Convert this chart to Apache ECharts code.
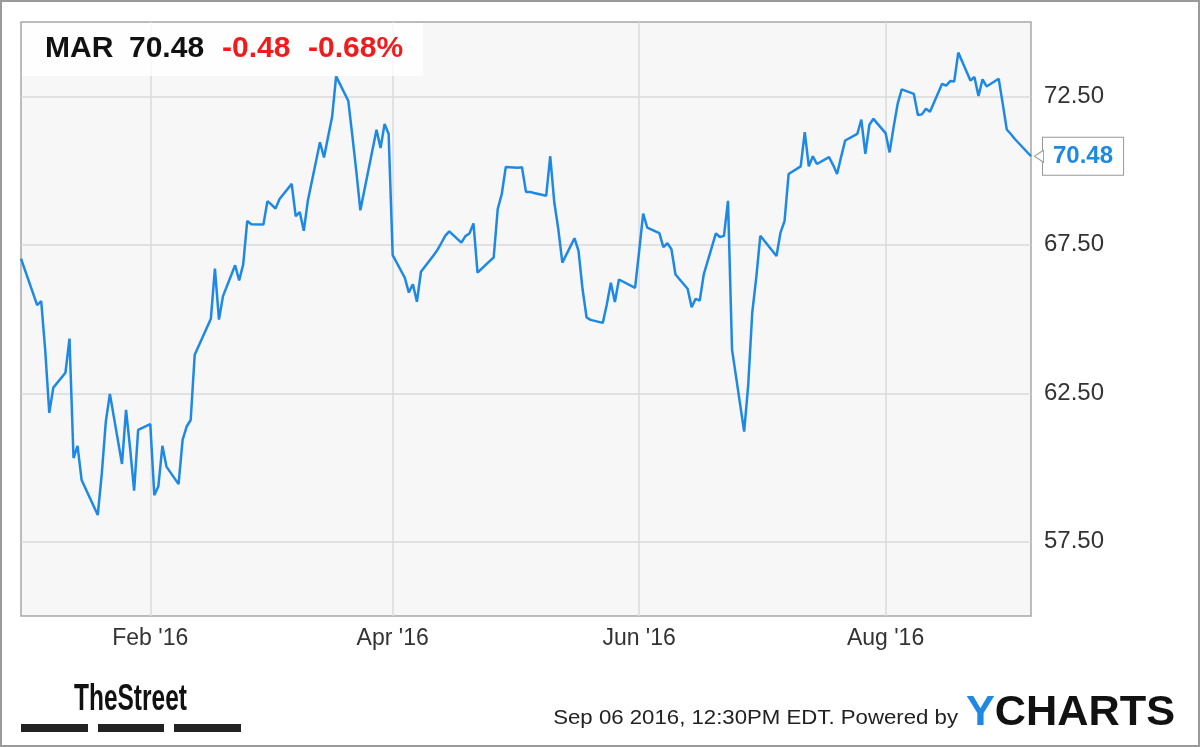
<!DOCTYPE html>
<html><head><meta charset="utf-8">
<style>html,body{margin:0;padding:0;background:#fff}#c{width:1200px;height:747px}</style>
<script src="https://cdn.jsdelivr.net/npm/echarts@6/dist/echarts.min.js"></script>
</head><body><div id="c"></div>
<script>
const dates = ['2015-12-31','2016-01-04','2016-01-05','2016-01-06','2016-01-07','2016-01-08','2016-01-11','2016-01-12','2016-01-13','2016-01-14','2016-01-15','2016-01-19','2016-01-20','2016-01-21','2016-01-22','2016-01-25','2016-01-26','2016-01-27','2016-01-28','2016-01-29','2016-02-01','2016-02-02','2016-02-03','2016-02-04','2016-02-05','2016-02-08','2016-02-09','2016-02-10','2016-02-11','2016-02-12','2016-02-16','2016-02-17','2016-02-18','2016-02-19','2016-02-22','2016-02-23','2016-02-24','2016-02-25','2016-02-26','2016-02-29','2016-03-01','2016-03-02','2016-03-03','2016-03-04','2016-03-07','2016-03-08','2016-03-09','2016-03-10','2016-03-11','2016-03-14','2016-03-15','2016-03-16','2016-03-17','2016-03-18','2016-03-21','2016-03-22','2016-03-23','2016-03-24','2016-03-28','2016-03-29','2016-03-30','2016-03-31','2016-04-01','2016-04-04','2016-04-05','2016-04-06','2016-04-07','2016-04-08','2016-04-11','2016-04-12','2016-04-13','2016-04-14','2016-04-15','2016-04-18','2016-04-19','2016-04-20','2016-04-21','2016-04-22','2016-04-25','2016-04-26','2016-04-27','2016-04-28','2016-04-29','2016-05-02','2016-05-03','2016-05-04','2016-05-05','2016-05-06','2016-05-09','2016-05-10','2016-05-11','2016-05-12','2016-05-13','2016-05-16','2016-05-17','2016-05-18','2016-05-19','2016-05-20','2016-05-23','2016-05-24','2016-05-25','2016-05-26','2016-05-27','2016-05-31','2016-06-01','2016-06-02','2016-06-03','2016-06-06','2016-06-07','2016-06-08','2016-06-09','2016-06-10','2016-06-13','2016-06-14','2016-06-15','2016-06-16','2016-06-17','2016-06-20','2016-06-21','2016-06-22','2016-06-23','2016-06-24','2016-06-27','2016-06-28','2016-06-29','2016-06-30','2016-07-01','2016-07-05','2016-07-06','2016-07-07','2016-07-08','2016-07-11','2016-07-12','2016-07-13','2016-07-14','2016-07-15','2016-07-18','2016-07-19','2016-07-20','2016-07-21','2016-07-22','2016-07-25','2016-07-26','2016-07-27','2016-07-28','2016-07-29','2016-08-01','2016-08-02','2016-08-03','2016-08-04','2016-08-05','2016-08-08','2016-08-09','2016-08-10','2016-08-11','2016-08-12','2016-08-15','2016-08-16','2016-08-17','2016-08-18','2016-08-19','2016-08-22','2016-08-23','2016-08-24','2016-08-25','2016-08-26','2016-08-29','2016-08-30','2016-08-31','2016-09-01','2016-09-02','2016-09-06'];
const prices = [67.03,65.47,65.60,63.94,61.84,62.69,63.19,64.34,60.32,60.73,59.58,58.40,59.80,61.55,62.48,60.12,61.94,60.65,59.22,61.27,61.46,59.07,59.37,60.73,60.03,59.44,60.93,61.38,61.60,63.80,65.01,66.70,64.98,65.77,66.81,66.30,66.84,68.30,68.19,68.18,68.97,68.85,68.72,69.04,69.55,68.46,68.60,67.97,68.98,70.95,70.44,71.13,71.80,73.17,72.35,71.19,69.97,68.66,71.37,70.76,71.57,71.23,67.15,66.39,65.89,66.17,65.58,66.59,67.12,67.31,67.55,67.80,67.95,67.57,67.79,67.88,68.22,66.56,66.95,67.07,68.70,69.21,70.12,70.09,70.11,69.28,69.28,69.24,69.15,70.48,68.93,68.02,66.90,67.72,67.29,66.00,65.05,64.97,64.87,65.49,66.22,65.57,66.33,66.05,67.28,68.55,68.08,67.89,67.42,67.55,67.35,66.50,66.02,65.40,65.68,65.62,66.50,67.88,67.76,67.80,68.98,63.97,61.21,62.77,65.21,66.40,67.80,67.12,67.91,68.30,69.88,70.14,71.29,70.14,70.48,70.22,70.45,70.19,69.88,70.46,71.01,71.23,71.71,70.56,71.54,71.74,71.26,70.61,71.47,72.25,72.73,72.58,71.87,71.89,72.08,71.98,72.92,72.86,73.01,73.00,73.97,73.03,73.15,72.51,73.07,72.83,73.09,72.25,71.38,71.23,71.06,70.48];
const yTicks = [57.5, 62.5, 67.5, 72.5];
const xTickDates = ['2016-02-01','2016-04-01','2016-06-01','2016-08-01'];
const xTickLabels = ["Feb '16","Apr '16","Jun '16","Aug '16"];
const xRange = ['2015-12-31','2016-09-06'];
const yRange = [55, 75];
const ticker = 'MAR';
const lastPrice = 70.48;
const change = -0.48;
const changePct = -0.68;
const footerText = 'Sep 06 2016, 12:30PM EDT. Powered by';

function ts(s){ const p = s.split('-').map(Number); return Date.UTC(p[0], p[1]-1, p[2]); }
const data = dates.map((d,i)=>[ts(d), prices[i]]);
const xTicks = xTickDates.map(ts);
const F = "'Liberation Sans', Arial, sans-serif";
const BLUE = '#1e88e5';

const chart = echarts.init(document.getElementById('c'));
chart.setOption({
  animation:false,
  backgroundColor:'#fff',
  grid:{left:21, right:169, top:22, bottom:131, show:true, backgroundColor:'#f7f7f7', borderColor:'#a8a8a8', borderWidth:1.5},
  xAxis:{type:'value', min:ts(xRange[0]), max:ts(xRange[1]),
    axisLine:{show:false}, axisTick:{show:false, customValues:xTicks},
    axisLabel:{customValues:xTicks, formatter:(v)=>{const i=xTicks.indexOf(v); return i>=0?xTickLabels[i]:'';}, color:'#333', fontSize:23, fontFamily:F, margin:11},
    splitLine:{show:true, lineStyle:{color:'#dadada', width:1.5}}},
  yAxis:{type:'value', position:'right', min:yRange[0], max:yRange[1],
    axisLine:{show:false}, axisTick:{show:false, customValues:yTicks},
    axisLabel:{customValues:yTicks, formatter:(v)=>v.toFixed(2), color:'#333', fontSize:24, fontFamily:F, margin:13},
    splitLine:{show:true, lineStyle:{color:'#dadada', width:1.5}}},
  series:[{type:'line', data:data, showSymbol:false, symbol:'none',
    lineStyle:{color:BLUE, width:2.5}, itemStyle:{color:BLUE},
    endLabel:{show:true, distance:12, formatter:(p)=>p.value[1].toFixed(2), color:BLUE, fontWeight:'bold', fontSize:24, fontFamily:F,
      backgroundColor:'#fff', borderColor:'#999', borderWidth:1, padding:[7,10,6,10]},
    markPoint:{silent:true, symbol:'path://M0,5L8,0L8,10Z', symbolSize:[9,12], symbolOffset:[8,0],
      itemStyle:{color:'#fff', borderColor:'#999', borderWidth:1}, label:{show:false},
      data:[{coord:data[data.length-1]}]}
  }],
  graphic:[
    {type:'rect', shape:{x:1,y:1,width:1198,height:745}, style:{fill:'none', stroke:'#9a9a9a', lineWidth:2}, z:100},
    {type:'rect', shape:{x:22,y:23,width:401,height:53}, style:{fill:'rgba(255,255,255,0.8)'}, z:50},
    {type:'text', x:45, y:49, z:51, style:{text:ticker, font:'bold 30px '+F, fill:'#111', verticalAlign:'middle'}},
    {type:'text', x:129, y:49, z:51, style:{text:lastPrice.toFixed(2), font:'bold 30px '+F, fill:'#111', verticalAlign:'middle'}},
    {type:'text', x:222, y:49, z:51, style:{text:change.toFixed(2), font:'bold 30px '+F, fill:'#f21b1b', verticalAlign:'middle'}},
    {type:'text', x:308, y:49, z:51, style:{text:changePct.toFixed(2)+'%', font:'bold 30px '+F, fill:'#f21b1b', verticalAlign:'middle'}},
    {type:'text', x:74, y:700, scaleX:0.68, z:51, style:{text:'TheStreet', font:'bold 36px '+F, fill:'#111', verticalAlign:'middle'}},
    {type:'rect', shape:{x:21,y:724,width:67,height:8}, style:{fill:'#222'}},
    {type:'rect', shape:{x:98,y:724,width:66,height:8}, style:{fill:'#222'}},
    {type:'rect', shape:{x:174,y:724,width:67,height:8}, style:{fill:'#222'}},
    {type:'text', x:958, y:718, scaleX:1.11, z:51, style:{text:footerText, font:'20px '+F, fill:'#222', align:'right', verticalAlign:'middle'}},
    {type:'text', x:966, y:713, scaleX:1.03, z:51, style:{text:'{y|Y}{c|CHARTS}', font:'bold 42px '+F, verticalAlign:'middle',
      rich:{y:{fill:BLUE, font:'bold 42px '+F}, c:{fill:'#111', font:'bold 42px '+F}}}}
  ]
});
</script></body></html>
